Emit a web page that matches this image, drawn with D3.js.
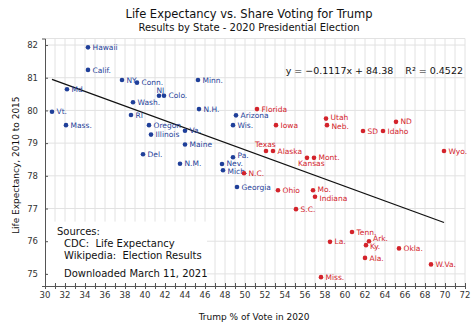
<!DOCTYPE html>
<html>
<head>
<meta charset="utf-8">
<script src="https://cdn.jsdelivr.net/npm/d3@7"></script>
<style>
body { margin: 0; background: #fff; }
text { font-family: "Lucida Grande", "DejaVu Sans", sans-serif; }
</style>
</head>
<body>
<div id="canvas"></div>
<script>
// state labels as printed on the chart
const states = ["Hawaii", "Calif.", "Md.", "NY.", "Conn.", "NJ", "Colo.", "Wash.", "Vt.", "RI",
  "Mass.", "Oregon", "Illinois", "Va.", "Minn.", "N.H.", "Arizona", "Wis.", "Del.", "N.M.",
  "Maine", "Pa.", "Nev.", "Mich.", "Georgia",
  "Florida", "Iowa", "Utah", "Neb.", "SD", "Idaho", "ND", "Texas", "Alaska", "Kansas",
  "Mont.", "Wyo.", "N.C.", "Ohio", "Mo.", "Indiana", "S.C.", "Tenn.", "Ark.", "Ky.",
  "La.", "Okla.", "Ala.", "W.Va.", "Miss."];
const trumpShare = [34.3, 34.3, 32.2, 37.7, 39.2, 41.4, 41.9, 38.8, 30.7, 38.6,
  32.1, 40.4, 40.6, 44.0, 45.3, 45.4, 49.1, 48.8, 39.8, 43.5,
  44.0, 48.8, 47.7, 47.8, 49.2,
  51.2, 53.1, 58.1, 58.2, 61.8, 63.8, 65.1, 52.1, 52.8, 56.2,
  56.9, 69.9, 49.9, 53.3, 56.8, 57.0, 55.1, 60.7, 62.4, 62.1,
  58.5, 65.4, 62.0, 68.6, 57.6];
const lifeExpectancy = [81.93, 81.24, 80.65, 80.93, 80.85, 80.45, 80.45, 80.25, 79.96, 79.86,
  79.55, 79.55, 79.26, 79.38, 80.93, 80.04, 79.85, 79.55, 78.66, 78.37,
  78.96, 78.57, 78.36, 78.17, 77.66,
  80.04, 79.55, 79.75, 79.55, 79.37, 79.37, 79.65, 78.76, 78.76, 78.55,
  78.55, 78.76, 78.08, 77.56, 77.56, 77.36, 76.98, 76.28, 76.0, 75.88,
  75.98, 75.78, 75.49, 75.29, 74.9];
// D = Biden won the state, R = Trump won
const winner = ["D", "D", "D", "D", "D", "D", "D", "D", "D", "D",
  "D", "D", "D", "D", "D", "D", "D", "D", "D", "D",
  "D", "D", "D", "D", "D",
  "R", "R", "R", "R", "R", "R", "R", "R", "R", "R",
  "R", "R", "R", "R", "R", "R", "R", "R", "R", "R",
  "R", "R", "R", "R", "R"];

const xTicks = [30, 32, 34, 36, 38, 40, 42, 44, 46, 48, 50, 52, 54, 56, 58, 60, 62, 64, 66, 68, 70, 72];
const yTicks = [75, 76, 77, 78, 79, 80, 81, 82];

const slope = -0.1117;
const intercept = 84.38;
const rSquared = 0.4522;

const sources = ["Sources:", "CDC:  Life Expectancy", "Wikipedia:  Election Results", "Downloaded March 11, 2021"];

// labels that don't sit just right of their dot
const labelShift = {
  "NJ": [-2.5, -5.5], "Texas": [-11, -6.5], "Kansas": [-9, 6], "Ark.": [4, -3], "Ky.": [4, 1],
  "Nev.": [4.5, -0.5], "Mich.": [4.5, 1], "Utah": [4.5, -1.2], "Neb.": [4.5, 1], "Mo.": [4.5, -1], "Indiana": [4.5, 1.2],
  "Pa.": [4.5, -2]
};

const width = 474;
const height = 325;
const margin = { top: 38.5, left: 45, bottom: 39, right: 9 };
const iwidth = width - margin.left - margin.right;
const iheight = height - margin.top - margin.bottom;

const colors = { D: "#1f3f99", R: "#d3232b" };

const svg = d3.select("#canvas").append("svg")
  .attr("width", width)
  .attr("height", height);

const data = states.map((s, i) => ({ name: s, x: trumpShare[i], y: lifeExpectancy[i], w: winner[i] }));

const x = d3.scaleLinear().domain([30, 72]).range([0, iwidth]);
const y = d3.scaleLinear().domain([74.63, 82.2]).range([iheight, 0]);

const g = svg.append("g").attr("transform", `translate(${margin.left},${margin.top})`);

// grid
g.append("g").selectAll("line").data(d3.range(31, 73))
  .enter().append("line")
  .attr("x1", d => x(d)).attr("x2", d => x(d))
  .attr("y1", 0).attr("y2", iheight)
  .attr("stroke", "#e2e2e2").attr("stroke-width", 1);
g.append("g").selectAll("line").data(yTicks.concat([82.2]))
  .enter().append("line")
  .attr("x1", 0).attr("x2", iwidth)
  .attr("y1", d => y(d)).attr("y2", d => y(d))
  .attr("stroke", "#e2e2e2").attr("stroke-width", 1);

// sources box sits over the grid
const boxTop = y(76.6);
const box = g.append("g").attr("transform", `translate(2,${boxTop})`);
box.append("rect")
  .attr("width", 160).attr("height", iheight - boxTop - 1.5)
  .attr("fill", "#fff");
box.selectAll("text").data(sources)
  .enter().append("text")
  .attr("x", (d, i) => i == 0 ? 10 : 17)
  .attr("y", (d, i) => [13, 25.5, 37, 55.5][i])
  .attr("font-size", "10px")
  .attr("fill", "#111")
  .style("white-space", "pre")
  .text(d => d);

// axes
const xAxis = g.append("g")
  .attr("transform", `translate(0,${iheight})`)
  .call(d3.axisBottom(x).tickValues(d3.range(30, 73)).tickSize(3).tickFormat(""));
xAxis.selectAll(".tick line").attr("y1", -3);
xAxis.append("g").selectAll("text").data(xTicks)
  .enter().append("text")
  .attr("x", d => x(d)).attr("y", 12)
  .attr("text-anchor", "middle")
  .attr("font-size", "8.5px")
  .attr("fill", "#333")
  .text(d => d);

const yAxis = g.append("g")
  .call(d3.axisLeft(y).tickValues(yTicks).tickSize(3).tickPadding(4));
yAxis.selectAll(".tick line").attr("x2", 3);
yAxis.selectAll(".tick text").attr("font-size", "8.5px").attr("fill", "#333").attr("font-family", null);
g.selectAll(".domain").attr("stroke", "#555");
g.selectAll(".tick line").attr("stroke", "#555");

// trend line
const xr = d3.extent(trumpShare);
g.append("line")
  .attr("x1", x(xr[0])).attr("y1", y(slope * xr[0] + intercept))
  .attr("x2", x(xr[1])).attr("y2", y(slope * xr[1] + intercept))
  .attr("stroke", "#111").attr("stroke-width", 1.3);

g.append("text")
  .attr("x", iwidth - 2).attr("y", y(81.12))
  .attr("text-anchor", "end")
  .attr("font-size", "9.5px")
  .attr("fill", "#111")
  .style("white-space", "pre")
  .text(`y = \u2212${Math.abs(slope)}x + ${intercept}    R\u00b2 = ${rSquared}`);

// dots and labels
const pts = g.selectAll(".pt").data(data).enter().append("g").attr("class", "pt");
pts.append("circle")
  .attr("cx", d => x(d.x)).attr("cy", d => y(d.y))
  .attr("r", 2.3)
  .attr("fill", d => colors[d.w]);
pts.append("text")
  .attr("x", d => x(d.x) + (labelShift[d.name] ? labelShift[d.name][0] : 4.5))
  .attr("y", d => y(d.y) + (labelShift[d.name] ? labelShift[d.name][1] : 0))
  .attr("dy", "0.35em")
  .attr("font-size", "7.5px")
  .attr("fill", d => colors[d.w])
  .text(d => d.name);

// titles
svg.append("text")
  .attr("x", 249).attr("y", 18)
  .attr("text-anchor", "middle")
  .attr("font-size", "11.5px")
  .attr("fill", "#111")
  .text("Life Expectancy vs. Share Voting for Trump");
svg.append("text")
  .attr("x", 249).attr("y", 30.5)
  .attr("text-anchor", "middle")
  .attr("font-size", "10px")
  .attr("fill", "#111")
  .text("Results by State - 2020 Presidential Election");

svg.append("text")
  .attr("x", 254).attr("y", 320)
  .attr("text-anchor", "middle")
  .attr("font-size", "9px")
  .attr("fill", "#111")
  .text("Trump % of Vote in 2020");

svg.append("text")
  .attr("transform", `translate(19,${margin.top + iheight / 2 + 3}) rotate(-90)`)
  .attr("text-anchor", "middle")
  .attr("font-size", "9px")
  .attr("fill", "#111")
  .text("Life Expectancy, 2010 to 2015");
</script>
</body>
</html>
